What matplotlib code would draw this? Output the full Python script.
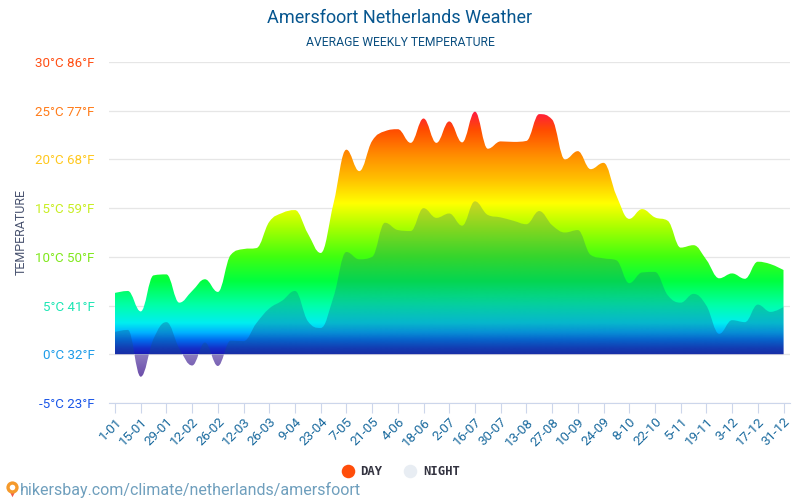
import numpy as np
import matplotlib
matplotlib.use("Agg")
import matplotlib.pyplot as plt
from matplotlib.path import Path
from matplotlib.patches import PathPatch
from matplotlib.colors import to_rgb

plt.rcParams['font.family'] = ['Roboto', 'DejaVu Sans']

tick_labels = ["1-01","15-01","29-01","12-02","26-02","12-03","26-03","9-04","23-04","7-05","21-05","4-06",
               "18-06","2-07","16-07","30-07","13-08","27-08","10-09","24-09","8-10","22-10","5-11","19-11",
               "3-12","17-12","31-12"]
day = [6.3,6.5,4.4,8.1,8.2,5.3,6.5,7.7,6.4,10.2,10.8,10.9,13.6,14.5,14.8,12.4,10.4,15.5,21.0,18.8,21.9,22.9,
       23.1,21.7,24.2,21.7,23.9,21.75,24.9,21.1,21.85,21.8,21.9,24.65,24.1,20.0,20.85,19.0,19.65,16.3,13.9,14.9,
       14.05,13.7,10.95,11.2,9.7,7.8,8.3,7.75,9.5,9.25,8.65]
night = [2.3,2.5,-2.3,1.6,3.3,0.6,-1.15,1.2,-1.2,1.4,1.35,3.2,4.7,5.5,6.5,3.4,2.7,5.9,10.5,9.75,10.0,13.5,
         12.75,12.65,15.0,14.0,14.45,13.2,15.7,14.3,14.05,13.7,13.35,14.7,13.25,12.5,12.75,10.2,9.85,9.65,7.3,8.4,
         8.45,6.05,5.3,6.2,5.0,2.1,3.5,3.3,5.1,4.35,4.85]
y_ticks = [-5,0,5,10,15,20,25,30]
y_tick_labels = ["-5°C 23°F","0°C 32°F","5°C 41°F","10°C 50°F","15°C 59°F","20°C 68°F","25°C 77°F","30°C 86°F"]
y_tick_colors = ["#1a56e8","#1e9ce8","#1de6b4","#80e81c","#c8ee22","#ffc81e","#ff7c1a","#ff4f14"]

day_stops = [(-0.0,"#1a1ab8"),(0.6,"#1430c8"),(1.5,"#0070f0"),(2.2,"#00b0ff"),(3.2,"#00eef0"),(5,"#00ffaa"),
             (7.5,"#00ff40"),(10,"#40ff10"),(13,"#a8ff00"),(15.5,"#ffff00"),(18,"#ffc000"),(20.5,"#ff8c00"),
             (23,"#ff4d00"),(25,"#ff1744")]
night_neg_stops = [(-2.5,"#6a4aa8"),(-1.2,"#7a62b4"),(0,"#8c7cc0")]
night_alpha_stops = [(0,0.38),(3,0.36),(6,0.24),(30,0.22)]

X_PX0, X_PX1 = 115.0, 783.5

fig = plt.figure(figsize=(8, 5), dpi=100, facecolor="white")
left, right = 109.0, 790.0
ax = fig.add_axes([left/800, 1-403/500, (right-left)/800, (403-62)/500])
step = (X_PX1-X_PX0)/(len(day)-1)
ax.set_xlim((left-X_PX0)/step, (right-X_PX0)/step)
ax.set_ylim(-5, 30)
ax.set_facecolor("white")
for s in ["top","left","right"]:
    ax.spines[s].set_visible(False)
ax.spines["bottom"].set_color("#ccd6eb")
ax.spines["bottom"].set_linewidth(0.8)

ax.set_yticks(y_ticks)
ax.set_yticklabels(y_tick_labels, fontsize=9.6)
for lab, c in zip(ax.get_yticklabels(), y_tick_colors):
    lab.set_color(c)
ax.tick_params(axis="y", length=0, pad=10.5)
ax.yaxis.grid(True, color="#e6e6e6", lw=0.9)
ax.set_axisbelow(True)

xt = np.arange(0, len(day), 2)
ax.set_xticks(xt)
ax.set_xticklabels(tick_labels, fontsize=9.6, color="#1a6a9e", rotation=45, ha="right", va="top", rotation_mode="anchor")
ax.tick_params(axis="x", length=7, width=0.8, color="#ccd6eb", pad=2)

def spline_path(vals, smoothing=1.5):
    xs = np.arange(len(vals), dtype=float)
    ys = np.asarray(vals, float)
    n = len(ys)
    lc, rc = [None]*n, [None]*n
    for i in range(1, n-1):
        d = smoothing+1
        lx, ly = (smoothing*xs[i]+xs[i-1])/d, (smoothing*ys[i]+ys[i-1])/d
        rx, ry = (smoothing*xs[i]+xs[i+1])/d, (smoothing*ys[i]+ys[i+1])/d
        corr = (ry-ly)*(rx-xs[i])/(rx-lx)+ys[i]-ry
        ly += corr; ry += corr
        if ly > ys[i-1] and ly > ys[i]:
            ly = max(ys[i-1], ys[i]); ry = 2*ys[i]-ly
        elif ly < ys[i-1] and ly < ys[i]:
            ly = min(ys[i-1], ys[i]); ry = 2*ys[i]-ly
        if ry > ys[i+1] and ry > ys[i]:
            ry = max(ys[i+1], ys[i]); ly = 2*ys[i]-ry
        elif ry < ys[i+1] and ry < ys[i]:
            ry = min(ys[i+1], ys[i]); ly = 2*ys[i]-ry
        lc[i] = (lx, ly); rc[i] = (rx, ry)
    verts = [(xs[0], 0.0), (xs[0], ys[0])]
    codes = [Path.MOVETO, Path.LINETO]
    for i in range(n-1):
        c1 = rc[i] if rc[i] else (xs[i], ys[i])
        c2 = lc[i+1] if lc[i+1] else (xs[i+1], ys[i+1])
        verts += [c1, c2, (xs[i+1], ys[i+1])]
        codes += [Path.CURVE4]*3
    verts += [(xs[-1], 0.0), (xs[0], 0.0)]
    codes += [Path.LINETO, Path.CLOSEPOLY]
    return Path(verts, codes)

def ramp(stops, v):
    rgb = np.array([to_rgb(c) for _, c in stops])
    pos = [p for p, _ in stops]
    return np.stack([np.interp(v, pos, rgb[:, k]) for k in range(3)], axis=-1)

vv = np.linspace(30, -5, 700)
day_img = np.ones((700, 1, 4))
day_img[..., :3] = ramp(day_stops, vv)[:, None, :]
day_img[..., 3] = (vv >= 0)[:, None].astype(float)

night_img = np.zeros((700, 1, 4))
overlay = np.array(to_rgb("#14508c"))
night_img[vv >= 0, 0, :3] = overlay
night_img[vv >= 0, 0, 3] = np.interp(vv[vv >= 0], [p for p, _ in night_alpha_stops], [a for _, a in night_alpha_stops])
night_img[vv < 0, 0, :3] = ramp(night_neg_stops, vv[vv < 0])
night_img[vv < 0, 0, 3] = 1.0

xl, yl = ax.get_xlim(), ax.get_ylim()
for img, vals, z in [(day_img, day, 2), (night_img, night, 3)]:
    im = ax.imshow(img, extent=[xl[0], xl[1], -5, 30], aspect="auto", zorder=z, interpolation="bilinear")
    im.set_clip_path(PathPatch(spline_path(vals), transform=ax.transData))
ax.set_xlim(xl); ax.set_ylim(yl)

fig.text(400/800, 1-18/500, "Amersfoort Netherlands Weather", ha="center", va="center", fontsize=12.95, color="#07568f")
fig.text(400/800, 1-42/500, "AVERAGE WEEKLY TEMPERATURE", ha="center", va="center", fontsize=8.7, color="#0b4f80")
fig.text(21.5/800, 1-232/500, "TEMPERATURE", rotation=90, ha="center", va="center", fontsize=9, color="#4a5470")

leg = fig.add_axes([0, 0, 1, 1], facecolor="none")
leg.set_xlim(0, 800); leg.set_ylim(500, 0); leg.axis("off")
leg.scatter([348], [471], s=95, color="#ff4d0a", linewidths=0)
leg.scatter([410], [471], s=95, color="#e8edf3", linewidths=0)
leg.text(360.5, 471.5, "DAY", fontsize=8.8, family="DejaVu Sans Mono", fontweight="bold", color="#333340", va="center")
leg.text(423, 471.5, "NIGHT", fontsize=8.8, family="DejaVu Sans Mono", fontweight="bold", color="#333340", va="center")
leg.scatter([12], [492], s=46, marker="v", color="#ef5a4a", linewidths=0)
leg.scatter([12], [487], s=78, color="#f59a2c", linewidths=0)
leg.scatter([12], [487], s=16, color="white", linewidths=0)
leg.text(20, 489.5, "hikersbay.com/climate/netherlands/amersfoort", fontsize=11.55, color="#6f9fbd", va="center")

fig.savefig("out.png", dpi=100)
